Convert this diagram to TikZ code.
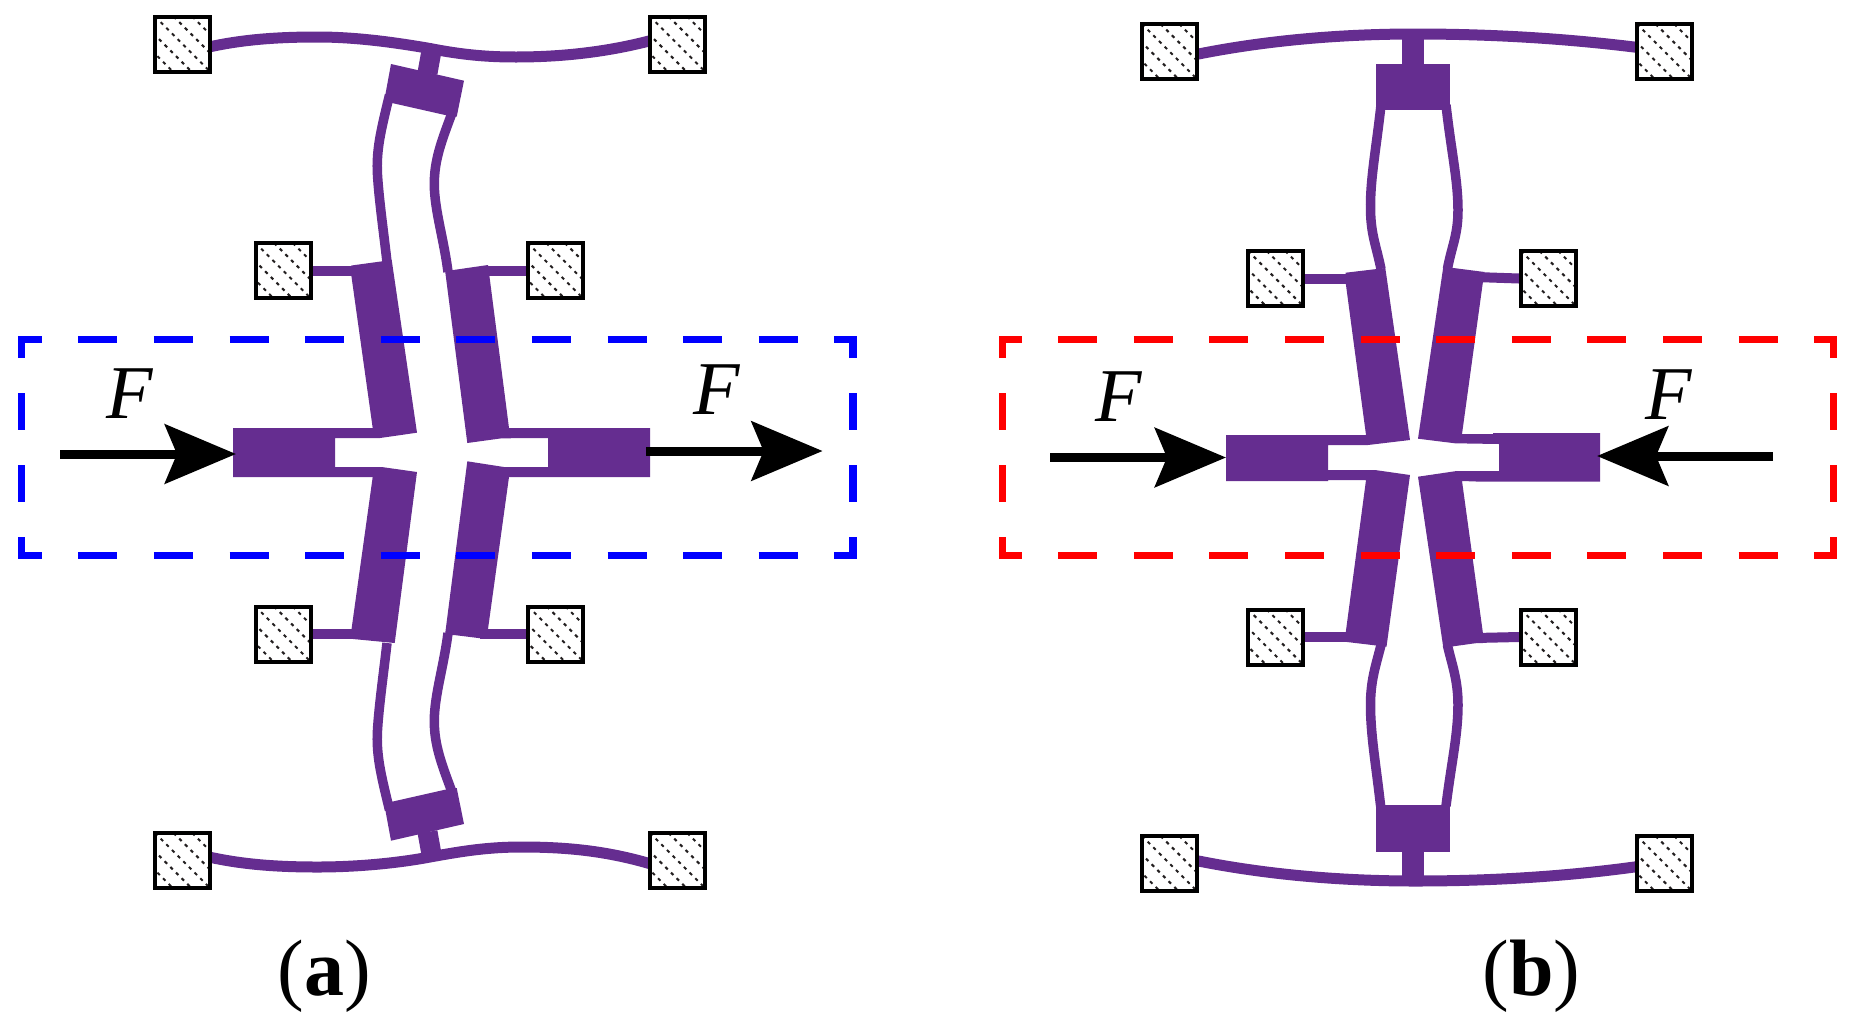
\documentclass[tikz,border=0pt]{standalone}
\usepackage{fontspec}
\setmainfont{Liberation Serif}
\usetikzlibrary{arrows.meta,backgrounds}
\definecolor{flex}{HTML}{652D90}
\definecolor{hatch}{HTML}{231F20}
\tikzset{
  hatchdot/.style={draw=hatch,line width=2pt,dash pattern=on 3.4pt off 4.6pt},
  block/.style={draw=black,line width=4pt,fill=white,minimum size=55pt,inner sep=0pt,
    path picture={\foreach \k in {-3,...,3}
      \draw[hatchdot] ([xshift=\k*18.6pt]path picture bounding box.north west) -- ++(62,62);}},
  mass/.style={fill=flex},
  beam/.style={draw=flex,line width=11pt},
  leg/.style={draw=flex,line width=9.5pt},
  stub/.style={draw=flex,line width=10pt},
  force/.style={line width=9pt,-{Stealth[length=71pt,width=59pt,inset=12pt]}},
  forcelabel/.style={font=\fontsize{76}{90}\selectfont\itshape,anchor=base,inner sep=0pt},
  caption/.style={font=\fontsize{80}{96}\selectfont,anchor=base,inner sep=0pt},
  hdash/.style={line width=7pt,dash pattern=on 39pt off 36.6pt,dash phase=15.3pt},
  vdash/.style={line width=7.5pt,dash pattern=on 37pt off 35pt,dash phase=15pt}
}
\begin{document}
\begin{tikzpicture}[x=1pt,y=-1pt]
  \useasboundingbox (0,0) rectangle (1857,1026);
  % tension case
  \node (aTL) [block] at (182.5,44) {};
  \node (aTR) [block] at (677.5,44) {};
  \node (aIL) [block] at (283,270.5) {};
  \node (aIR) [block] at (555.2,270.5) {};
  \node (aJL) [block] at (283,634) {};
  \node (aJR) [block] at (555.8,634) {};
  \node (aBL) [block] at (182.5,860.5) {};
  \node (aBR) [block] at (677.5,860.5) {};
  % compression case
  \node (bTL) [block] at (1169.5,51.5) {};
  \node (bTR) [block] at (1664.5,51.5) {};
  \node (bIL) [block] at (1275.6,278.5) {};
  \node (bIR) [block] at (1548.5,278.5) {};
  \node (bJL) [block] at (1275.6,637) {};
  \node (bJR) [block] at (1548.5,637) {};
  \node (bBL) [block] at (1169.5,863.5) {};
  \node (bBR) [block] at (1664.5,863.5) {};
  \begin{scope}[on background layer]
    \draw[beam] ([shift={(-3pt,-3pt)}]aTL.east) .. controls (245,39) and (281,37) .. (317.5,37)
      .. controls (358,37) and (398,43) .. (430,48.5)
      .. controls (463,55) and (488,57) .. (516,57)
      .. controls (562,57) and (607,52) .. ([shift={(3pt,3.5pt)}]aTR.west);
    \draw[beam] ([shift={(-3pt,3.5pt)}]aBL.east) .. controls (245,865) and (281,867) .. (317.5,867)
      .. controls (358,867) and (398,863) .. (430,857)
      .. controls (463,851) and (488,847) .. (522,847)
      .. controls (567,847) and (607,851) .. ([shift={(3pt,-3.5pt)}]aBR.west);
    \draw[stub] (aIL.east) -- (360,270.5);
    \draw[stub] (aIR.west) -- (480,270.5);
    \draw[stub] (aJL.east) -- (360,634);
    \draw[stub] (aJR.west) -- (480,634);
    \draw[beam] ([shift={(-3pt,-3pt)}]bTL.east) .. controls (1268,40) and (1343,34) .. (1415,34)
      .. controls (1488,34) and (1562,38) .. ([shift={(3pt,4pt)}]bTR.west);
    \draw[beam] ([shift={(-3pt,3pt)}]bBL.east) .. controls (1268,875) and (1343,881) .. (1415,881)
      .. controls (1488,881) and (1562,877) .. ([shift={(3pt,-3pt)}]bBR.west);
    \draw[stub] (bIL.east) -- (1355,278.5);
    \draw[stub] (bIR.west) -- (1475,277);
    \draw[stub] (bJL.east) -- (1355,637);
    \draw[stub] (bJR.west) -- (1475,638);
  \end{scope}
  % tension flexure
  \fill[mass] (351.4,265.5) -- (391.7,260) -- (417,432.7) -- (380,438) -- (335,438) -- (335,467)
    -- (381.7,467) -- (417,472) -- (394.7,643) -- (353,639) -- (351.4,630) -- (372.7,477)
    -- (233,477) -- (233,428) -- (372.7,428) -- (351.4,276) -- cycle;
  \fill[mass] (445,270) -- (453.3,270) -- (488,265) -- (509,428) -- (650,428) -- (650,477) -- (509,477)
    -- (488,629) -- (488,638) -- (480.7,638.3) -- (454,635) -- (445,635) -- (467.3,461.3) -- (504,467)
    -- (548,467) -- (548,438) -- (501.7,438.3) -- (467.3,443) -- cycle;
  \fill[mass] (391,64) -- (464,80.7) -- (456.7,116.7) -- (445,115) -- (393.3,103.3) -- (384,102) -- cycle;
  \fill[mass] (384,802.7) -- (393.3,801.4) -- (445,789.7) -- (456.7,788) -- (464,824) -- (391,840.7) -- cycle;
  \draw[flex,line width=20pt] (432,48) -- (427.5,73);
  \draw[flex,line width=20pt] (427.5,832) -- (432,857);
  \draw[leg] (389.5,95) .. controls (381,130) and (376,150) .. (377.5,175)
    .. controls (379,200) and (384,235) .. (387,262);
  \draw[leg] (452,113) .. controls (442,140) and (434,160) .. (434.3,185)
    .. controls (434.5,210) and (444,240) .. (448,272);
  \draw[leg] (387,643) .. controls (384,670) and (379,705) .. (377.5,730)
    .. controls (376,755) and (381,775) .. (389.5,810);
  \draw[leg] (448,633) .. controls (444,665) and (434.5,695) .. (434.3,720)
    .. controls (434,745) and (442,765) .. (452,792);
  % compression flexure
  \fill[mass] (1345.7,272.7) -- (1385.3,268) -- (1410,440) -- (1368,445) -- (1328,445) -- (1328,470)
    -- (1375,470) -- (1410,475) -- (1386.5,646.7) -- (1346.9,642) -- (1345.7,632.7) -- (1366,480)
    -- (1328,480) -- (1328,481) -- (1226,481) -- (1226,435) -- (1366,435) -- (1345.7,283) -- cycle;
  \fill[mass] (1443.3,266.7) -- (1484.6,272) -- (1482.9,282) -- (1462,434) -- (1493,434) -- (1493,433)
    -- (1600,433) -- (1600,481.7) -- (1481.7,481.7) -- (1462,481) -- (1482.9,633) -- (1482.9,643)
    -- (1477,643) -- (1443.3,647.7) -- (1418,476.7) -- (1456.7,471) -- (1499,471) -- (1499,444)
    -- (1455,443.3) -- (1418,438.7) -- cycle;
  \fill[mass] (1375.8,64) rectangle (1450.3,109.5);
  \fill[mass] (1375.8,805) rectangle (1450.3,851.7);
  \draw[flex,line width=22pt] (1412.8,34) -- (1412.8,66);
  \draw[flex,line width=22pt] (1412.8,850) -- (1412.8,881);
  \draw[leg] (1381,105) .. controls (1376,150) and (1370,180) .. (1370.5,210)
    .. controls (1371,235) and (1376,245) .. (1381,269);
  \draw[leg] (1446,105) .. controls (1451,150) and (1458,180) .. (1458,210)
    .. controls (1458,235) and (1452,245) .. (1447.4,269);
  \draw[leg] (1381,645) .. controls (1376,665) and (1370.5,680) .. (1370.5,705)
    .. controls (1370.5,735) and (1376,765) .. (1380.6,806);
  \draw[leg] (1447.4,645) .. controls (1452,665) and (1458,680) .. (1458,705)
    .. controls (1458,735) and (1451,765) .. (1446,806);
  % load windows
  \draw[hdash,blue] (18,339.5) -- (857,339.5);
  \draw[hdash,blue] (18,555.5) -- (857,555.5);
  \draw[vdash,blue] (21.5,336) -- (21.5,559);
  \draw[vdash,blue] (853,336) -- (853,559);
  \draw[hdash,red,dash phase=16.6pt] (999.2,339.5) -- (1837,339.5);
  \draw[hdash,red,dash phase=16.6pt] (999.2,555.5) -- (1837,555.5);
  \draw[vdash,red] (1002.7,336) -- (1002.7,559);
  \draw[vdash,red] (1833.3,336) -- (1833.3,559);
  % loads
  \coordinate (aLs) at (60,454);
  \coordinate (aLe) at (236,454);
  \coordinate (aRs) at (646,451);
  \coordinate (aRe) at (822.6,451);
  \coordinate (bLs) at (1050,457.5);
  \coordinate (bLe) at (1226,457.5);
  \coordinate (bRs) at (1773,456);
  \coordinate (bRe) at (1597,456);
  \draw[force] (aLs) -- (aLe);
  \draw[force] (aRs) -- (aRe);
  \draw[force] (bLs) -- (bLe);
  \draw[force] (bRs) -- (bRe);
  \node (aFL) [forcelabel] at (130,418) {F};
  \node (aFR) [forcelabel] at (717,414.5) {F};
  \node (bFL) [forcelabel] at (1119,421) {F};
  \node (bFR) [forcelabel] at (1669,419.5) {F};
  \node (capa) [caption] at (324.6,995) {(\textbf{a})};
  \node (capb) [caption] at (1531.6,995) {(\textbf{b})};
\end{tikzpicture}
\end{document}
